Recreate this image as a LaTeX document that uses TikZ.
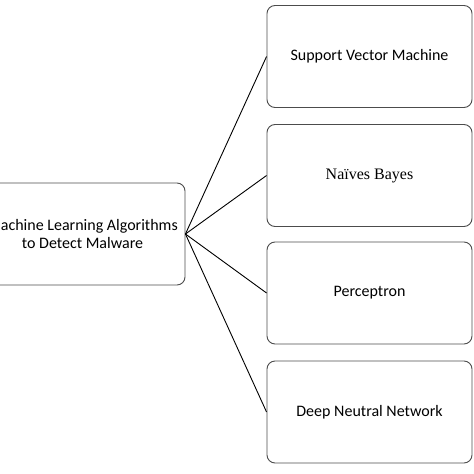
\documentclass[tikz,border=0pt]{standalone}
\usepackage{fontspec}
\setmainfont{Carlito}
\newfontfamily\nbfont{Liberation Serif}
\begin{document}
\begin{tikzpicture}[x=1pt,y=-1pt,
  box/.style={draw=black!70,line width=0.9pt,rounded corners=8pt,minimum width=205pt,minimum height=102pt,align=center,font=\fontsize{16}{18}\selectfont},
  link/.style={line width=0.9pt}]
\useasboundingbox (0,0) rectangle (474,474);
\clip (0,0) rectangle (474,474);
\node[box] (ml) at (82.5,234) {Machine Learning Algorithms\\to Detect Malware};
\node[box] (svm) at (369.5,56.5) {Support Vector Machine};
\node[box] (nb) at (369.5,175.5) {\nbfont Naïves Bayes};
\node[box] (pc) at (369.5,293) {Perceptron};
\node[box] (dnn) at (369.5,412) {Deep Neutral Network};
\draw[link](ml.east)--(svm.west);
\draw[link](ml.east)--(nb.west);
\draw[link](ml.east)--(pc.west);
\draw[link](ml.east)--(dnn.west);
\end{tikzpicture}
\end{document}
